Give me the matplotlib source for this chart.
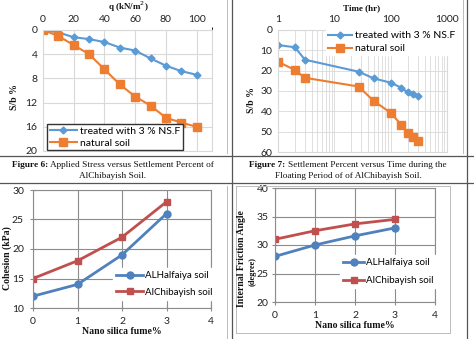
import matplotlib
matplotlib.use("Agg")
import matplotlib.pyplot as plt
from matplotlib.ticker import FixedLocator, NullFormatter

# Figure 6: applied stress vs settlement
stress = [0, 10, 20, 30, 40, 50, 60, 70, 80, 90, 100]
settle_treated = [0, 0.4, 1.2, 1.5, 2.0, 2.9, 3.4, 4.7, 5.9, 6.8, 7.4]
settle_natural = [0, 1.0, 2.5, 4.0, 6.5, 9.0, 11.0, 12.5, 14.5, 15.3, 16.0]

# Figure 7: settlement vs time (log scale)
time_hr = [1, 2, 3, 27, 50, 100, 155, 200, 250, 300]
time_treated = [7.4, 8.5, 14.6, 20.5, 23.8, 25.9, 28.4, 30.6, 31.6, 32.3]
time_natural = [15.6, 19.7, 23.5, 27.8, 34.9, 40.7, 46.7, 50.5, 52.8, 54.6]

# Nano silica fume content vs strength parameters
nsf = [0, 1, 2, 3]
coh_halfaiya = [12, 14, 19, 26]
coh_chibayish = [15, 18, 22, 28]
phi_halfaiya = [28, 30, 31.6, 33]
phi_chibayish = [31, 32.5, 33.7, 34.5]

W, H = 474, 339
fig = plt.figure(figsize=(W / 100, H / 100), dpi=100)
fig.patch.set_facecolor("white")

SANS = ["Lato", "DejaVu Sans"]
SERIF = ["Liberation Serif", "DejaVu Serif"]
BLUE13, ORANGE13 = "#5B9BD5", "#ED7D31"
BLUE10, RED10 = "#4F81BD", "#C0504D"
GRID = "#D9D9D9"


def px_axes(x0, y0, x1, y1):
    return fig.add_axes([x0 / W, 1 - y1 / H, (x1 - x0) / W, (y1 - y0) / H])


def style_ticks(ax, size):
    for lab in ax.get_xticklabels() + ax.get_yticklabels():
        lab.set_fontfamily(SANS)
        lab.set_fontsize(size)
        lab.set_color("#222222")


# ---- Figure 6 ----
ax1 = px_axes(43, 30, 212, 151)
ax1.plot(stress, settle_treated, color=BLUE13, marker="D", ms=3.5, lw=1.5,
         label="treated with 3 % NS.F")
ax1.plot(stress, settle_natural, color=ORANGE13, marker="s", ms=5.5, lw=1.5,
         label="natural soil")
ax1.set_xlim(0, 110)
ax1.set_ylim(20, 0)
ax1.set_xticks(range(0, 101, 20))
ax1.set_yticks(range(0, 21, 4))
ax1.xaxis.tick_top()
ax1.xaxis.set_minor_locator(FixedLocator([110]))
ax1.grid(True, which="both", color=GRID, lw=0.8)
ax1.tick_params(length=0, pad=4)
for s in ax1.spines.values():
    s.set_color(GRID)
style_ticks(ax1, 7.5)
ax1.legend(loc="upper left", bbox_to_anchor=(47 / W, 1 - 124 / H),
           bbox_transform=fig.transFigure, prop={"family": SANS, "size": 7.5},
           frameon=True, fancybox=False, edgecolor="#333333", framealpha=1,
           handlelength=2.6, labelspacing=0.25, borderpad=0.25,
           handletextpad=0.3, borderaxespad=0)

# ---- Figure 7 ----
ax2 = px_axes(278, 30, 447, 152)
ax2.plot(time_hr, time_treated, color=BLUE13, marker="D", ms=3.5, lw=1.5,
         label="treated with 3 % NS.F")
ax2.plot(time_hr, time_natural, color=ORANGE13, marker="s", ms=5.5, lw=1.5,
         label="natural soil")
ax2.set_xscale("log")
ax2.set_xlim(1, 1000)
ax2.set_ylim(60, 0)
ax2.set_yticks(range(0, 61, 10))
ax2.set_xticks([1, 10, 100, 1000])
ax2.set_xticklabels(["1", "10", "100", "1000"])
ax2.xaxis.set_minor_formatter(NullFormatter())
ax2.xaxis.tick_top()
ax2.grid(True, which="both", color=GRID, lw=0.6)
ax2.tick_params(which="both", length=0, pad=4)
for s in ax2.spines.values():
    s.set_color(GRID)
style_ticks(ax2, 7.5)
ax2.legend(loc="upper left", bbox_to_anchor=(326 / W, 1 - 29 / H),
           bbox_transform=fig.transFigure, prop={"family": SANS, "size": 7.5},
           frameon=True, fancybox=False, edgecolor="white", framealpha=1,
           handlelength=2.3, labelspacing=0.35, borderpad=0.2,
           handletextpad=0.3, borderaxespad=0)


def nsf_axes(ax, ylim, ystep):
    ax.set_xlim(0, 4)
    ax.set_ylim(*ylim)
    ax.set_xticks(range(5))
    ax.set_yticks(range(ylim[0], ylim[1] + 1, ystep))
    ax.grid(True, color="#8C8C8C", lw=0.8)
    ax.tick_params(direction="inout", length=5, color="#8C8C8C", width=0.8, pad=4)
    for s in ax.spines.values():
        s.set_color("#8C8C8C")
    style_ticks(ax, 7.5)


# ---- Cohesion ----
ax3 = px_axes(33, 190, 211, 308)
ax3.plot(nsf, coh_halfaiya, color=BLUE10, marker="o", ms=5, lw=2,
         label="ALHalfaiya soil")
ax3.plot(nsf, coh_chibayish, color=RED10, marker="s", ms=4, lw=2,
         label="AlChibayish soil")
nsf_axes(ax3, (10, 30), 5)
ax3.legend(loc="upper left", bbox_to_anchor=(113 / W, 1 - 268 / H),
           bbox_transform=fig.transFigure, prop={"family": SANS, "size": 7},
           frameon=True, fancybox=False, edgecolor="white", framealpha=1,
           handlelength=2.8, labelspacing=0.8, borderpad=0.3,
           handletextpad=0.2, borderaxespad=0)

# ---- Internal friction angle ----
ax4 = px_axes(275, 188, 435, 302)
ax4.plot(nsf, phi_halfaiya, color=BLUE10, marker="o", ms=5, lw=2,
         label="ALHalfaiya soil")
ax4.plot(nsf, phi_chibayish, color=RED10, marker="s", ms=4, lw=2,
         label="AlChibayish soil")
nsf_axes(ax4, (20, 40), 5)
ax4.tick_params(axis="y", pad=2)
ax4.legend(loc="upper left", bbox_to_anchor=(340 / W, 1 - 255 / H),
           bbox_transform=fig.transFigure, prop={"family": SANS, "size": 7},
           frameon=True, fancybox=False, edgecolor="white", framealpha=1,
           handlelength=2.2, labelspacing=0.95, borderpad=0.3,
           handletextpad=0.2, borderaxespad=0)

# overlay in pixel coordinates for labels, captions and table lines
ov = fig.add_axes([0, 0, 1, 1], zorder=10)
ov.set_xlim(0, W)
ov.set_ylim(H, 0)
ov.axis("off")
ov.patch.set_alpha(0)

bold = dict(family=SERIF, weight="bold", color="#111111")
ov.text(128, 7, "q (kN/m$^2$)", ha="center", va="center", fontsize=6.5, **bold)
ov.text(362, 8, "Time (hr)", ha="center", va="center", fontsize=6.5, **bold)
ov.text(15, 97, "S/b %", ha="center", va="center", rotation=90, fontsize=7, **bold)
ov.text(252, 100, "S/b %", ha="center", va="center", rotation=90, fontsize=7, **bold)
ov.text(7, 258, "Cohesion (kPa)", ha="center", va="center", rotation=90,
        fontsize=7, **bold)
ov.text(242, 259, "Internal Friction Angle", ha="center", va="center",
        rotation=90, fontsize=7, **bold)
ov.text(252.5, 271, "(degree)", ha="center", va="center", rotation=90,
        fontsize=6, **bold)
ov.text(122, 331, "Nano silica fume%", ha="center", va="center", fontsize=7, **bold)
ov.text(355, 325, "Nano silica fume%", ha="center", va="center", fontsize=7, **bold)

# table and chart frames
for y in (156, 183):
    ov.plot([0, W], [y, y], color="#555555", lw=0.9)
for x in (232, 467):
    ov.plot([x, x], [0, H], color="#555555", lw=0.9)
ov.plot([227, 227], [0, 153], color="#BBBBBB", lw=0.7)
ov.plot([227, 227], [186, H], color="#BBBBBB", lw=0.7)
ov.plot([463, 463], [0, 153], color="#BBBBBB", lw=0.7)
ov.plot([236, 450, 450, 236, 236], [186, 186, 333, 333, 186], color="#BBBBBB", lw=0.7)

# captions: bold figure number followed by regular text, centred as one line
renderer = fig.canvas.get_renderer()


def caption(cx, y, head, rest):
    t1 = ov.text(0, y, head, ha="left", va="center", fontsize=6.7, **bold)
    t2 = ov.text(0, y, rest, ha="left", va="center", fontsize=6.7,
                 family=SERIF, color="#111111")
    w1 = t1.get_window_extent(renderer).width
    w2 = t2.get_window_extent(renderer).width
    x0 = cx - (w1 + w2) / 2
    t1.set_x(x0)
    t2.set_x(x0 + w1)


caption(113, 165, "Figure 6: ", "Applied Stress versus Settlement Percent of")
ov.text(113, 176.5, "AlChibayish Soil.", ha="center", va="center", fontsize=6.7,
        family=SERIF, color="#111111")
caption(348, 165, "Figure 7: ", "Settlement Percent versus Time during the")
ov.text(348, 176.5, "Floating Period of of AlChibayish Soil.", ha="center",
        va="center", fontsize=6.7, family=SERIF, color="#111111")

fig.savefig("out.png", dpi=100)
